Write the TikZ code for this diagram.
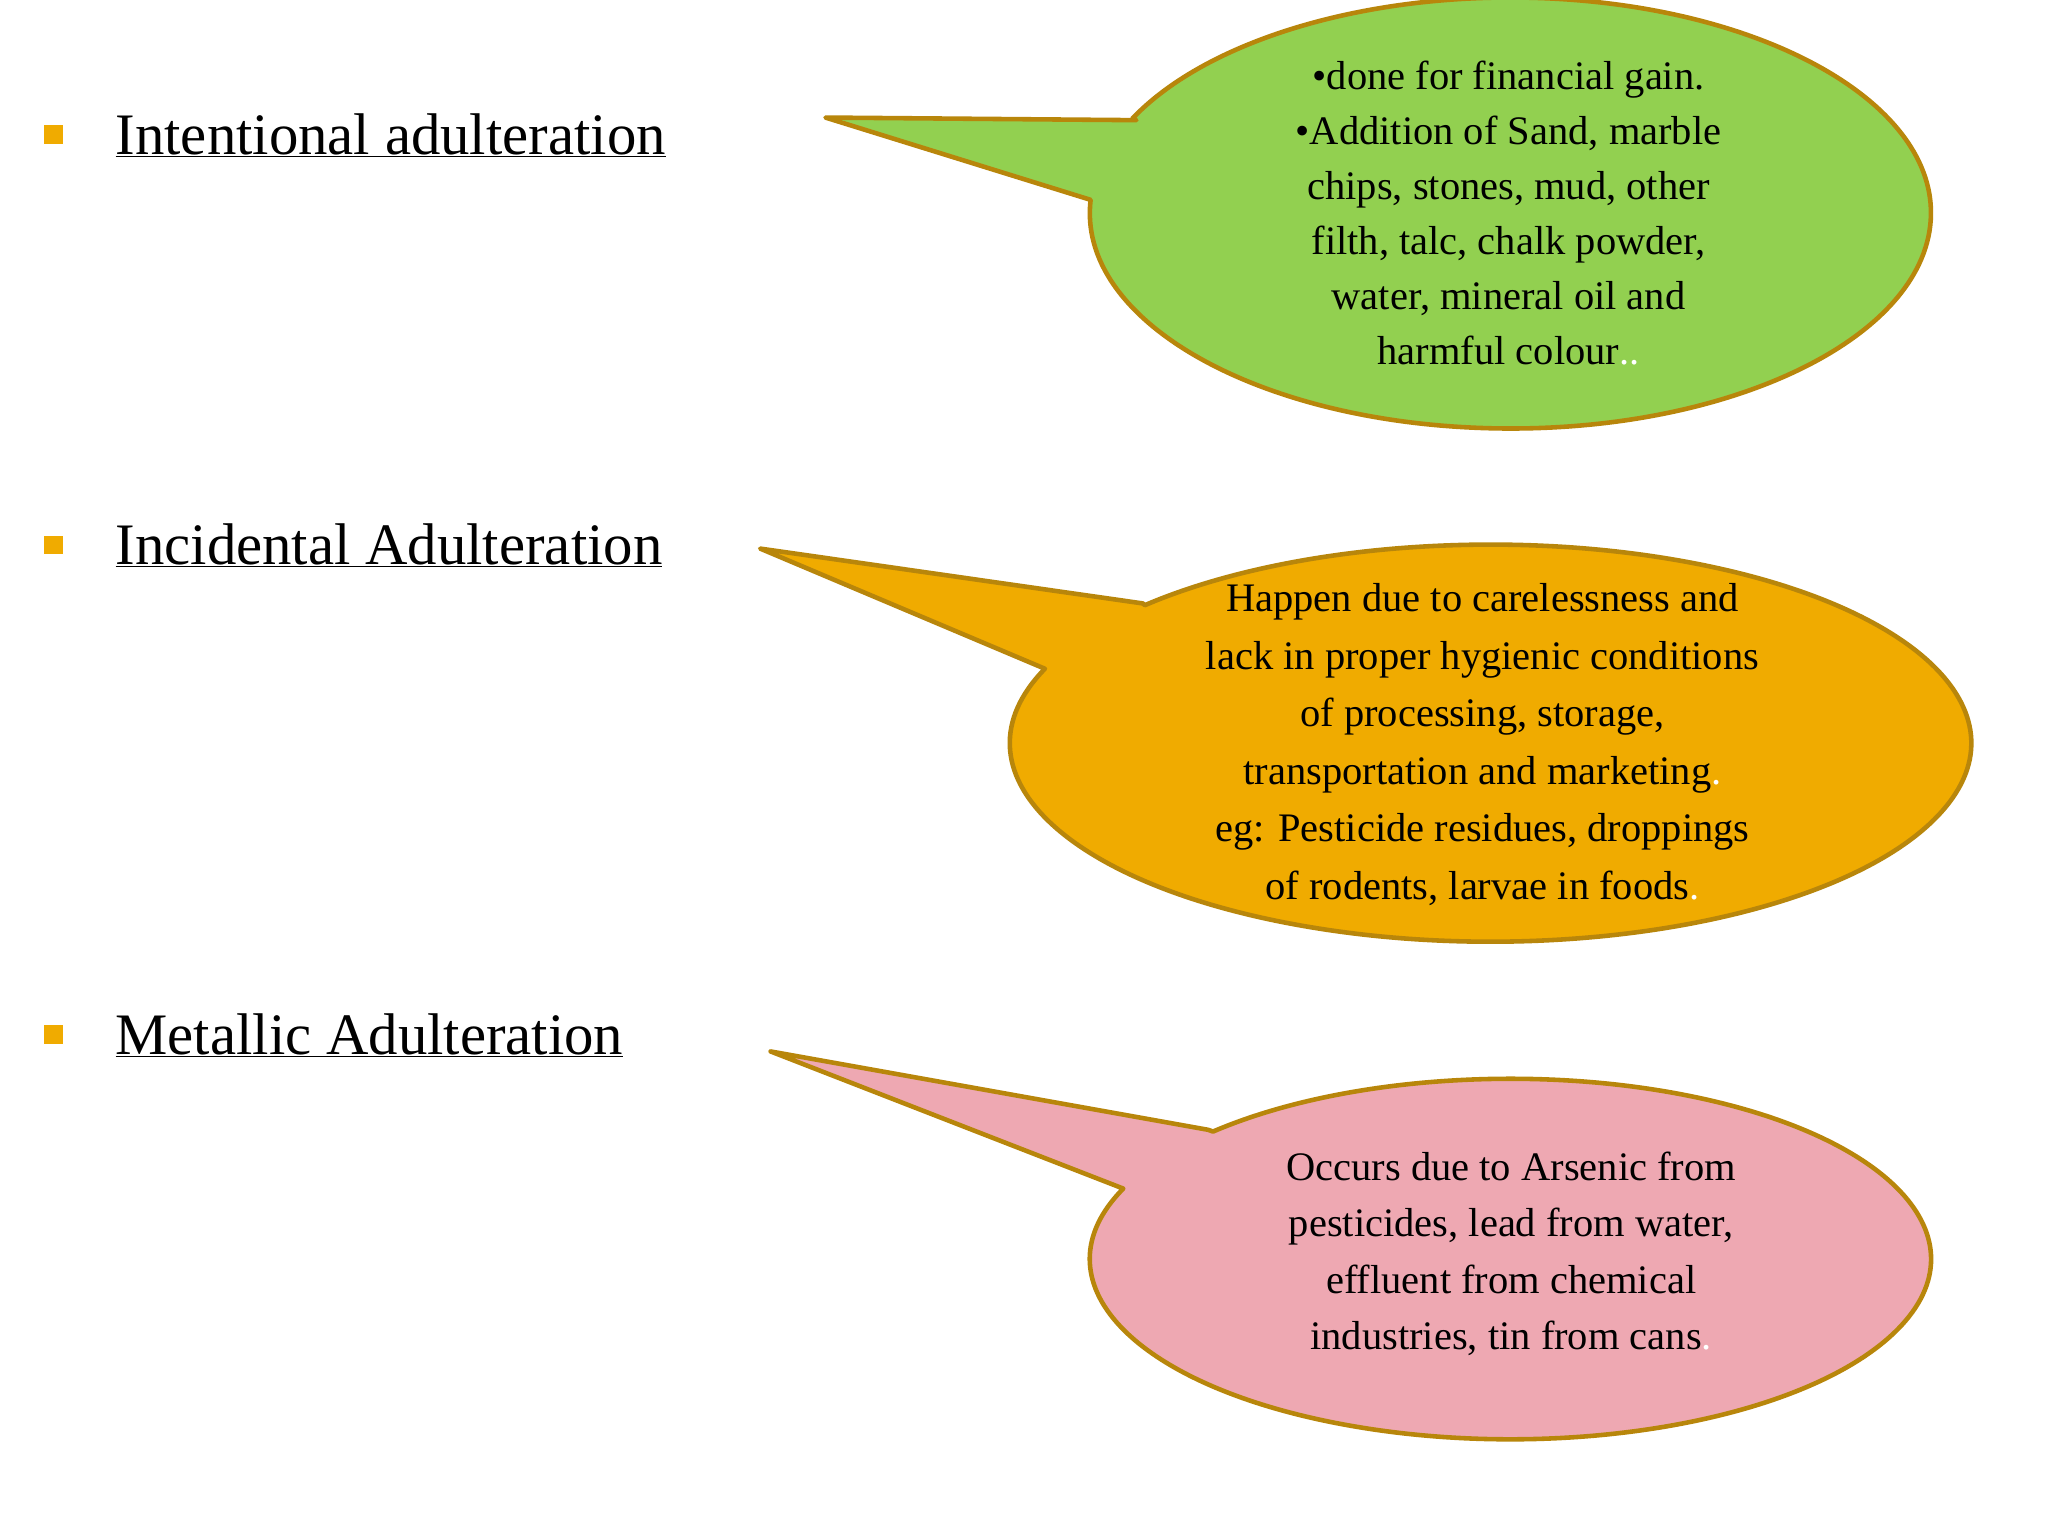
\documentclass[tikz,border=0pt]{standalone}
\usepackage{fontspec}
\setmainfont{Liberation Serif}
\definecolor{bord}{RGB}{184,134,11}
\definecolor{cgreen}{RGB}{146,208,80}
\definecolor{corange}{RGB}{240,171,0}
\definecolor{cpink}{RGB}{238,168,178}
\definecolor{bul}{RGB}{240,171,0}
\begin{document}
\begin{tikzpicture}[x=1pt,y=1pt,
  callout/.style={draw=bord,line width=3.5pt,line join=round},
  head/.style={anchor=base west,font=\fontsize{45}{50}\selectfont},
  body/.style={align=center,font=\fontsize{31}{42}\selectfont},
  bulletsq/.style={fill=bul,minimum size=14pt,inner sep=0pt}]
\useasboundingbox[fill=white] (0,0) rectangle (1568,-1176);
% bullets and headings
\node[bulletsq] (b1) at (41,-103) {};
\node[head] (h1) at (85,-118) {\underline{Intentional adulteration}};
\node[bulletsq] (b2) at (41,-417) {};
\node[head] (h2) at (85,-432) {\underline{Incidental Adulteration}};
\node[bulletsq] (b3) at (41,-792) {};
\node[head] (h3) at (85,-807) {\underline{Metallic Adulteration}};
% callout 1
\coordinate (t1) at (632,-90);
\draw[callout,fill=cgreen] (870,-92) -- (t1) -- (835,-153)
  arc[start angle=176.5,end angle=514,x radius=322,y radius=165] -- cycle;
\node[body] (c1) at (1155,-163) {•done for financial gain.\\•Addition of Sand, marble\\chips, stones, mud, other\\filth, talc, chalk powder,\\water, mineral oil and\\harmful colour\textcolor{white}{..}};
% callout 2
\coordinate (t2) at (582,-420);
\draw[callout,fill=corange] (875,-462) -- (t2) -- (800,-512)
  arc[start angle=158,end angle=496,x radius=368,y radius=152] -- cycle;
\node[body,font=\fontsize{31}{44}\selectfont] (c2) at (1135,-570) {Happen due to carelessness and\\lack in proper hygienic conditions\\of processing, storage,\\transportation and marketing\textcolor{white}{.}\\eg: Pesticide residues, droppings\\of rodents, larvae in foods\textcolor{white}{.}};
% callout 3
\coordinate (t3) at (590,-805);
\draw[callout,fill=cpink] (925,-865) -- (t3) -- (860,-910)
  arc[start angle=157,end angle=495,x radius=322,y radius=138] -- cycle;
\node[body,font=\fontsize{31}{43}\selectfont] (c3) at (1157,-960) {Occurs due to Arsenic from\\pesticides, lead from water,\\effluent from chemical\\industries, tin from cans\textcolor{white}{.}};
\end{tikzpicture}
\end{document}
